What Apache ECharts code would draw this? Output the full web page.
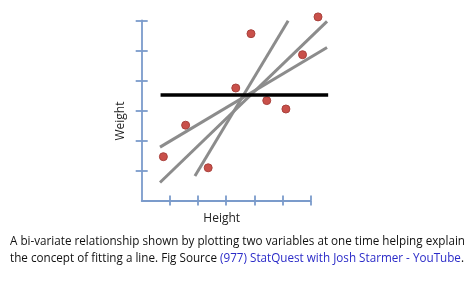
<!DOCTYPE html>
<html><head><meta charset="utf-8">
<script src="https://cdn.jsdelivr.net/npm/echarts@6/dist/echarts.min.js"></script>
<style>html,body{margin:0;padding:0;background:#fff}#c{width:474px;height:287px}</style>
</head><body><div id="c"></div>
<script>
// Data
var points = [[0.77,1.46],[1.56,2.51],[2.36,1.09],[3.34,3.75],[3.88,5.56],[4.44,3.33],[5.12,3.05],[5.71,4.86],[6.26,6.12]];
var meanLine = [[0.67,3.52],[6.62,3.52]];
var steepLine = [[1.89,0.82],[5.20,5.99]];
var middleLine = [[0.65,0.60],[6.58,5.97]];
var shallowLine = [[0.65,1.78],[6.58,5.10]];
var tickValues = [1,2,3,4,5,6];
var xName = 'Height';
var yName = 'Weight';
var caption1 = 'A bi-variate relationship shown by plotting two variables at one time helping explain';
var caption2a = 'the concept of fitting a line. Fig Source ';
var caption2b = '(977) StatQuest with Josh Starmer - YouTube';
var caption2c = '.';

var FONT = 'Open Sans';
var FS = 13;
function measure(t){var c=document.createElement('canvas').getContext('2d');c.font=FS+'px "'+FONT+'"';return c.measureText(t).width;}
var sx1 = 455/measure(caption1);
var sx2 = 454/measure(caption2a+caption2b+caption2c);

var axisColor = '#7b9bcb';
var UX = 28.1667, UY = 30.0;
var L = 141.7, B = 86.5;
function mkX(inside,grid){return {type:'value',gridIndex:grid,min:0,max:6,interval:1,position:'bottom',
  axisLine:{show:!inside,lineStyle:{color:axisColor,width:1.8}},
  axisTick:{show:true,inside:inside,length:5,customValues:tickValues,lineStyle:{color:axisColor,width:1.8}},
  axisLabel:{show:false},splitLine:{show:false}};}
function mkY(inside,grid){return {type:'value',gridIndex:grid,min:0,max:6,interval:1,position:'left',
  axisLine:{show:!inside,lineStyle:{color:axisColor,width:1.8}},
  axisTick:{show:true,inside:inside,length:6,customValues:tickValues,lineStyle:{color:axisColor,width:1.8}},
  axisLabel:{show:false},splitLine:{show:false}};}
function hidden(grid,max){return {type:'value',gridIndex:grid,min:0,max:max,interval:0.5,show:false,splitLine:{show:false}};}

var chart = echarts.init(document.getElementById('c'),null,{renderer:'canvas'});
function lineSeries(d,color,w){return {type:'line',xAxisIndex:2,yAxisIndex:2,data:d,symbol:'none',clip:false,
  lineStyle:{color:color,width:w,cap:'butt'},silent:true};}
chart.setOption({
  animation:false,
  grid:[
    {left:L,right:474-L-6*UX,top:287-B-6*UY,bottom:B},
    {left:L,right:474-L-7*UX,top:287-B-6.5*UY,bottom:B}
  ],
  xAxis:[mkX(false,0),mkX(true,0),hidden(1,7)],
  yAxis:[mkY(false,0),mkY(true,0),hidden(1,6.5)],
  series:[
    lineSeries(steepLine,'#8c8c8c',3),
    lineSeries(middleLine,'#8c8c8c',3),
    lineSeries(shallowLine,'#8c8c8c',3),
    lineSeries(meanLine,'#000000',3.5),
    {type:'scatter',xAxisIndex:2,yAxisIndex:2,data:points,symbol:'circle',symbolSize:8,clip:false,
     itemStyle:{color:'#c9504a',borderColor:'#a8413c',borderWidth:1,opacity:1}}
  ],
  graphic:[
    {type:'text',x:221.7,y:219,style:{text:xName,font:'12px "'+FONT+'"',fill:'#222',align:'center',verticalAlign:'middle'}},
    {type:'text',x:120.5,y:121,rotation:Math.PI/2,style:{text:yName,font:'12px "'+FONT+'"',fill:'#222',align:'center',verticalAlign:'middle'}},
    {type:'text',x:10,y:241.7,scaleX:sx1,style:{text:caption1,font:FS+'px "'+FONT+'"',fill:'#111',verticalAlign:'middle'}},
    {type:'text',x:10,y:258.3,scaleX:sx2,style:{text:'{a|'+caption2a+'}{b|'+caption2b+'}{a|'+caption2c+'}',verticalAlign:'middle',
      rich:{a:{font:FS+'px "'+FONT+'"',fill:'#111'},b:{font:FS+'px "'+FONT+'"',fill:'#2b2bc8'}}}}
  ]
});
</script></body></html>
